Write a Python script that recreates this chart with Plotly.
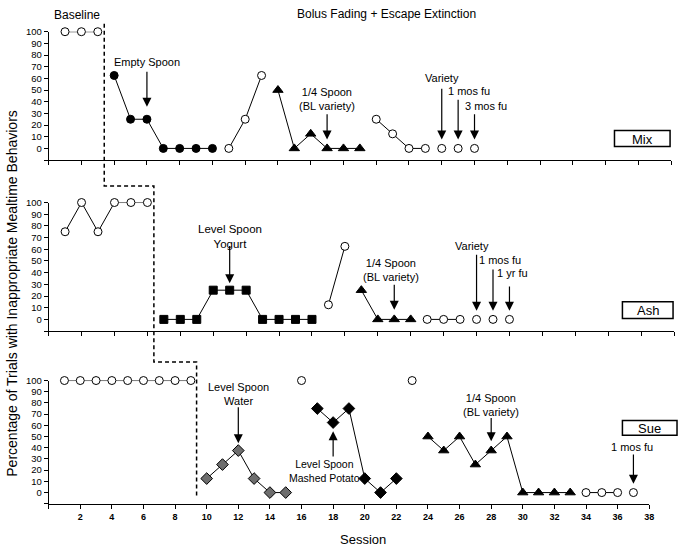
import plotly.graph_objects as go

W, H = 685, 546
FONT = "Liberation Sans, Arial, sans-serif"

# ---------------- data ----------------
# Mix
mix_bl_x = [1, 2, 3]
mix_bl_y = [100, 100, 100]
mix_es_x = [4, 5, 6, 7, 8, 9, 10]
mix_es_y = [62.5, 25, 25, 0, 0, 0, 0]
mix_o1_x = [11, 12, 13]
mix_o1_y = [0, 25, 62.5]
mix_tri_x = [14, 15, 16, 17, 18, 19]
mix_tri_y = [50, 0, 12.5, 0, 0, 0]
mix_o2_x = [20, 21, 22, 23]
mix_o2_y = [25, 12.5, 0, 0]
mix_fu_x = [24, 25, 26]
mix_fu_y = [0, 0, 0]

# Ash
ash_bl_x = [1, 2, 3, 4, 5, 6]
ash_bl_y = [75, 100, 75, 100, 100, 100]
ash_sq_x = [7, 8, 9, 10, 11, 12, 13, 14, 15, 16]
ash_sq_y = [0, 0, 0, 25, 25, 25, 0, 0, 0, 0]
ash_o1_x = [17, 18]
ash_o1_y = [12.5, 62.5]
ash_tri_x = [19, 20, 21, 22]
ash_tri_y = [25, 0, 0, 0]
ash_o2_x = [23, 24, 25]
ash_o2_y = [0, 0, 0]
ash_fu_x = [26, 27, 28]
ash_fu_y = [0, 0, 0]

# Sue
sue_bl_x = [1, 2, 3, 4, 5, 6, 7, 8, 9]
sue_bl_y = [100, 100, 100, 100, 100, 100, 100, 100, 100]
sue_gd_x = [10, 11, 12, 13, 14, 15]
sue_gd_y = [12.5, 25, 37.5, 12.5, 0, 0]
sue_p1_x = [16]
sue_p1_y = [100]
sue_bd_x = [17, 18, 19, 20, 21, 22]
sue_bd_y = [75, 62.5, 75, 12.5, 0, 12.5]
sue_p2_x = [23]
sue_p2_y = [100]
sue_tri_x = [24, 25, 26, 27, 28, 29, 30, 31, 32, 33]
sue_tri_y = [50, 37.5, 50, 25, 37.5, 50, 0, 0, 0, 0]
sue_o_x = [34, 35, 36]
sue_o_y = [0, 0, 0]
sue_fu_x = [37]
sue_fu_y = [0]

y_ticks = [-10, 0, 10, 20, 30, 40, 50, 60, 70, 80, 90, 100]
x_ticks = [0, 2, 4, 6, 8, 10, 12, 14, 16, 18, 20, 22, 24, 26, 28, 30, 32, 34, 36, 38]

fig = go.Figure()

def add(x, y, ax, symbol, fill, mode="lines+markers", size=8):
    fig.add_trace(go.Scatter(
        x=x, y=y, mode=mode, xaxis="x" + ax, yaxis="y" + ax,
        line=dict(color="black", width=1),
        marker=dict(symbol=symbol, size=size, color=fill,
                    line=dict(color="black", width=1)),
        cliponaxis=False, showlegend=False, hoverinfo="skip"))

# Top (Mix)
add(mix_bl_x, mix_bl_y, "", "circle", "white")
add(mix_es_x, mix_es_y, "", "circle", "black")
add(mix_o1_x, mix_o1_y, "", "circle", "white")
add(mix_tri_x, mix_tri_y, "", "triangle-up", "black", size=9)
add(mix_o2_x, mix_o2_y, "", "circle", "white")
add(mix_fu_x, mix_fu_y, "", "circle", "white", mode="markers")
# Middle (Ash)
add(ash_bl_x, ash_bl_y, "2", "circle", "white")
add(ash_sq_x, ash_sq_y, "2", "square", "black")
add(ash_o1_x, ash_o1_y, "2", "circle", "white")
add(ash_tri_x, ash_tri_y, "2", "triangle-up", "black", size=9)
add(ash_o2_x, ash_o2_y, "2", "circle", "white")
add(ash_fu_x, ash_fu_y, "2", "circle", "white", mode="markers")
# Bottom (Sue)
add(sue_bl_x, sue_bl_y, "3", "circle", "white")
add(sue_gd_x, sue_gd_y, "3", "diamond", "#6e6e6e", size=9)
add(sue_p1_x, sue_p1_y, "3", "circle", "white", mode="markers")
add(sue_bd_x, sue_bd_y, "3", "diamond", "black", size=9)
add(sue_p2_x, sue_p2_y, "3", "circle", "white", mode="markers")
add(sue_tri_x, sue_tri_y, "3", "triangle-up", "black", size=9)
add(sue_o_x, sue_o_y, "3", "circle", "white")
add(sue_fu_x, sue_fu_y, "3", "circle", "white", mode="markers")

def xd(a, b):
    return [a / W, b / W]

def yd(bot, top):
    return [1 - bot / H, 1 - top / H]

def xaxis(dom, anchor, labels):
    d = dict(domain=dom, anchor=anchor, range=[0, 38], showline=True,
             linecolor="black", linewidth=1, ticks="outside", ticklen=4,
             tickcolor="black", showgrid=False, zeroline=False,
             tickvals=x_ticks, fixedrange=True)
    if labels:
        d["ticktext"] = ["" if v == 0 else "<b>%d</b>" % v for v in x_ticks]
        d["tickfont"] = dict(family=FONT, size=9, color="black")
    else:
        d["ticktext"] = ["" for v in x_ticks]
    return d

def yaxis(dom, anchor):
    return dict(domain=dom, anchor=anchor, range=[-10, 100], showline=True,
                linecolor="black", linewidth=1, ticks="outside", ticklen=4,
                tickcolor="black", showgrid=False, zeroline=False,
                tickvals=y_ticks,
                ticktext=["" if v < 0 else str(v) for v in y_ticks],
                tickfont=dict(family=FONT, size=9.5, color="black"),
                fixedrange=True)

fig.update_layout(
    width=W, height=H, margin=dict(l=0, r=0, t=0, b=0),
    paper_bgcolor="white", plot_bgcolor="white",
    xaxis=xaxis(xd(49, 676), "y", False),
    yaxis=yaxis(yd(155.8, 26), "x"),
    xaxis2=xaxis(xd(49, 679), "y2", False),
    yaxis2=yaxis(yd(328.7, 198.7), "x2"),
    xaxis3=xaxis(xd(49, 654), "y3", True),
    yaxis3=yaxis(yd(503.3, 378.7), "x3"),
)

ann = []
def text(t, x, y, ax="", xanchor="center", size=11):
    ann.append(dict(text=t, x=x, y=y, xref="x" + ax, yref="y" + ax,
                    showarrow=False, xanchor=xanchor, yanchor="middle",
                    font=dict(family=FONT, size=size, color="black")))

def arrow(x, y_head, y_tail, ax=""):
    ann.append(dict(text="", x=x, y=y_head, ax=x, ay=y_tail,
                    xref="x" + ax, yref="y" + ax, axref="x" + ax, ayref="y" + ax,
                    showarrow=True, arrowhead=2, arrowsize=1.5, arrowwidth=1.2,
                    arrowcolor="black", standoff=0, startstandoff=0))

def ptext(t, px, py, size=12, angle=0, xanchor="center"):
    ann.append(dict(text=t, x=px / W, y=1 - py / H, xref="paper", yref="paper",
                    showarrow=False, xanchor=xanchor, yanchor="middle",
                    textangle=angle,
                    font=dict(family=FONT, size=size, color="black")))

# Top panel annotations
text("Empty Spoon", 6, 74)
arrow(6, 35.6, 67)
text("1/4 Spoon<br>(BL variety)", 17, 42.4)
arrow(17, 7.6, 30.5)
text("Variety", 24, 60)
arrow(24, 7.6, 52.5)
text("1 mos fu", 24.25, 49, xanchor="left")
arrow(25, 7.6, 43)
text("3 mos fu", 25.3, 36.4, xanchor="left")
arrow(26, 7.6, 30.5)

# Middle panel annotations
text("Level Spoon<br>Yogurt", 11, 71, ax="2", size=11.5)
arrow(11, 31, 64, ax="2")
text("1/4 Spoon<br>(BL variety)", 20.8, 42, ax="2")
arrow(21, 8.2, 31, ax="2")
text("Variety", 25.7, 62.5, ax="2")
arrow(26, 7.4, 56.5, ax="2")
text("1 mos fu", 26.05, 50.6, ax="2", xanchor="left")
arrow(27, 7.4, 44, ax="2")
text("1 yr fu", 27.1, 39.6, ax="2", xanchor="left")
arrow(28, 7.4, 29.4, ax="2")

# Bottom panel annotations
text("Level Spoon<br>Water", 12, 88, ax="3")
arrow(12, 44, 77.6, ax="3")
text("Level Spoon<br>Mashed Potato", 17.45, 19.4, ax="3", size=10.5)
arrow(18, 54.7, 30.9, ax="3")
text("1/4 Spoon<br>(BL variety)", 28, 78.5, ax="3")
arrow(28, 45.9, 68, ax="3")
text("1 mos fu", 36.9, 40.6, ax="3")
arrow(37, 7.9, 35.3, ax="3")

# Titles and labels in pixels
ptext("Baseline", 78, 9, size=12)
ptext("Bolus Fading + Escape Extinction", 389, 8, size=12)
ptext("Session", 366, 539, size=13)
ptext("Percentage of Trials with Inappropriate Mealtime Behaviors", 12, 290,
      size=14, angle=-90)

# Panel name boxes
boxes = [("Mix", 619, 675, 126, 142), ("Ash", 627, 678, 299, 316),
         ("Sue", 627, 682, 419, 434)]
shapes = []
for name, x0, x1, y0, y1 in boxes:
    shapes.append(dict(type="rect", xref="paper", yref="paper",
                       x0=x0 / W, x1=x1 / W, y0=1 - y1 / H, y1=1 - y0 / H,
                       line=dict(color="black", width=1.5),
                       fillcolor="white", layer="above"))
    ptext(name, (x0 + x1) / 2, (y0 + y1) / 2 + 0.5, size=13)

# Staircase phase-change line
pts = [(105, 18), (105, 182), (155, 182), (155, 360), (198, 360), (198, 497)]
path = "M " + " L ".join("%.4f,%.4f" % (x / W, 1 - y / H) for x, y in pts)
shapes.append(dict(type="path", xref="paper", yref="paper", path=path,
                   line=dict(color="black", width=1.5, dash="4px,3px")))

fig.update_layout(annotations=ann, shapes=shapes)
fig.write_html("out.html")
